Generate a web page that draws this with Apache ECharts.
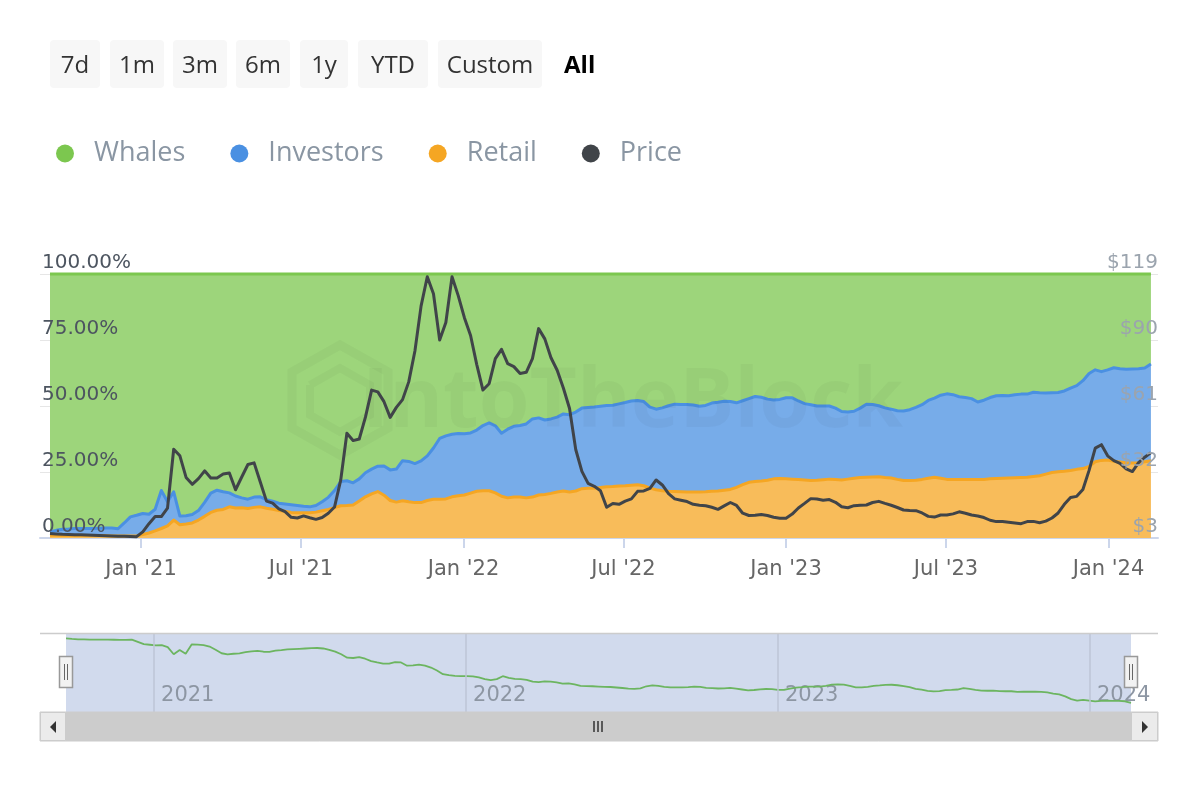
<!DOCTYPE html>
<html>
<head>
<meta charset="utf-8">
<script src="https://cdn.jsdelivr.net/npm/echarts@6/dist/echarts.min.js"></script>
<style>
html,body{margin:0;padding:0;background:#ffffff;}
#chart{width:1200px;height:800px;}
</style>
</head>
<body>
<div id="chart"></div>
<script>
// ---------------- DATA (weekly samples, starting 2020-09-20) ----------------
const firstWeek = '2020-09-20';

const retail = [
  1.0,1.0,0.9,0.9,0.9,0.9,0.9,0.9,0.9,0.9,0.8,0.8,0.8,0.8,0.8,
  1.3,1.9,2.7,3.6,4.6,6.8,5.0,5.3,5.7,6.8,8.2,9.7,10.5,10.8,11.8,
  11.4,11.5,11.2,11.6,11.8,11.3,10.9,10.4,10.1,9.7,9.6,9.6,9.6,9.8,10.3,
  10.8,11.5,12.2,12.3,12.5,14.0,15.6,16.7,17.6,16.2,14.2,13.6,14.1,13.7,13.4,
  13.4,14.2,14.7,14.7,14.8,15.6,16.0,16.3,17.0,17.7,17.9,17.9,17.1,15.8,15.2,
  15.5,15.5,15.2,15.5,16.3,16.5,16.9,17.4,17.8,17.4,17.8,18.7,18.8,18.8,19.1,
  19.4,19.5,19.7,19.8,20.0,20.2,19.8,18.9,18.3,17.9,17.7,17.6,17.5,17.4,17.4,
  17.4,17.5,17.7,17.8,18.1,18.4,19.2,20.2,21.1,21.4,21.6,21.9,22.4,22.5,22.4,
  22.3,22.2,22.0,21.8,21.9,22.1,22.3,22.2,22.0,22.3,22.6,22.9,23.0,23.1,23.2,
  22.9,22.7,22.2,21.8,21.8,21.9,22.2,22.6,23.0,22.6,22.2,22.2,22.2,22.2,22.2,
  22.2,22.2,22.4,22.5,22.6,22.7,22.8,22.9,23.0,23.3,23.6,24.2,24.8,25.1,25.3,
  25.6,26.0,26.3,27.1,28.9,29.4,29.5,29.1,28.8,28.5,28.4,28.5,28.9,29.3
];

const investors = [
  1.4,1.9,2.4,2.5,2.7,2.7,2.7,2.7,2.8,2.9,3.0,2.7,4.9,7.2,7.8,
  8.0,7.1,8.2,14.4,9.1,10.7,3.3,3.1,3.2,3.6,5.3,7.3,7.6,6.7,5.3,
  4.5,3.7,3.5,3.9,3.8,3.2,3.0,2.8,2.8,2.9,2.7,2.4,2.2,2.5,3.4,
  4.6,6.5,9.2,9.4,8.4,8.4,9.1,9.4,9.6,11.1,11.6,12.5,15.2,15.3,14.8,
  15.8,16.9,19.4,23.0,23.9,23.7,23.6,23.2,22.8,23.2,24.7,25.7,25.4,23.9,26.0,
  26.8,27.1,28.0,29.6,29.2,28.2,28.2,28.4,29.2,29.3,29.9,30.5,30.6,30.8,30.8,
  30.8,30.8,31.1,31.5,31.9,31.9,31.9,30.7,30.5,31.4,32.4,33.1,33.1,33.2,33.0,
  32.5,32.7,33.4,33.6,33.7,33.3,32.0,31.8,31.7,32.2,31.7,30.7,29.9,30.0,30.7,
  30.8,29.7,28.9,28.7,28.1,27.9,27.7,27.0,25.9,25.4,25.4,26.3,27.7,27.5,26.9,
  26.4,26.1,26.0,26.3,26.8,27.6,28.3,29.5,30.0,31.5,32.4,32.1,31.3,31.0,30.6,
  29.3,30.0,30.8,31.4,31.4,31.2,31.5,31.6,31.5,31.9,31.4,30.7,30.2,30.0,30.4,
  31.2,31.7,33.3,35.2,34.8,33.6,34.2,35.4,35.3,35.4,35.6,35.6,35.5,36.6
];

const whales = [
  97.6,97.1,96.7,96.6,96.4,96.4,96.4,96.4,96.3,96.2,96.2,96.5,94.3,92.0,91.4,
  90.7,91.0,89.1,82.0,86.3,82.5,91.7,91.6,91.1,89.6,86.5,83.0,81.9,82.5,82.9,
  84.1,84.8,85.3,84.5,84.4,85.5,86.1,86.8,87.1,87.4,87.7,88.0,88.2,87.7,86.3,
  84.6,82.0,78.6,78.3,79.1,77.6,75.3,73.9,72.8,72.7,74.2,73.9,70.7,71.0,71.8,
  70.8,68.9,65.9,62.3,61.3,60.7,60.4,60.5,60.2,59.1,57.4,56.4,57.5,60.3,58.8,
  57.7,57.4,56.8,54.9,54.5,55.3,54.9,54.2,53.0,53.3,52.3,50.8,50.6,50.4,50.1,
  49.8,49.7,49.2,48.7,48.1,47.9,48.3,50.4,51.2,50.7,49.9,49.3,49.4,49.4,49.6,
  50.1,49.8,48.9,48.6,48.2,48.3,48.8,48.0,47.2,46.4,46.7,47.4,47.7,47.5,46.9,
  46.9,48.1,49.1,49.5,50.0,50.0,50.0,50.8,52.1,52.3,52.0,50.8,49.3,49.4,49.9,
  50.7,51.2,51.8,51.9,51.4,50.5,49.5,47.9,47.0,45.9,45.4,45.7,46.5,46.8,47.2,
  48.5,47.8,46.8,46.1,46.0,46.1,45.7,45.5,45.5,44.8,45.0,45.1,45.0,44.9,44.3,
  43.2,42.3,40.4,37.7,36.3,37.0,36.3,35.5,35.9,36.1,36.0,35.9,35.6,34.1
];

const price = [
  5.0,4.8,4.6,4.5,4.4,4.4,4.3,4.2,4.1,4.0,3.9,3.8,3.8,3.7,3.6,
  5.7,9.3,12.4,12.4,16.1,42.0,39.1,29.6,26.6,29.1,32.5,29.4,29.4,31.1,31.6,
  24.2,29.8,35.3,36.0,27.6,19.2,18.3,15.8,14.6,12.1,11.8,12.7,11.9,11.2,12.0,
  13.9,16.6,28.4,49.0,45.8,46.5,56.1,68.0,67.2,62.9,56.0,60.4,63.8,71.6,85.2,
  105.0,117.8,110.3,90.0,97.7,117.8,109.5,99.8,92.0,79.2,68.0,70.8,81.8,85.9,79.6,
  78.3,75.3,75.8,81.8,95.0,90.5,82.2,76.7,68.9,59.9,41.9,32.3,27.0,25.7,23.8,
  16.5,18.2,17.8,19.2,20.2,23.5,23.7,24.8,28.5,26.3,22.5,20.2,19.6,19.0,17.8,
  17.4,17.2,16.5,15.6,17.1,18.6,17.3,13.9,12.9,13.0,13.3,12.9,12.1,11.7,11.7,
  13.5,16.2,18.2,20.3,20.1,19.6,19.9,18.7,16.7,16.3,17.2,17.4,17.5,18.6,19.1,
  18.2,17.4,16.4,15.3,15.1,15.0,14.0,12.5,12.2,13.1,13.1,13.6,14.5,13.9,13.1,
  12.7,12.0,10.8,10.2,10.2,9.9,9.6,9.3,10.2,10.3,9.7,10.4,11.8,14.0,17.8,
  20.8,21.3,24.3,32.7,42.5,44.0,39.1,37.0,35.8,33.4,32.2,36.1,38.5,40.5
];

const seriesNames = ['Whales', 'Investors', 'Retail', 'Price'];
const xTickDates = ['2021-01-01','2021-07-01','2022-01-01','2022-07-01','2023-01-01','2023-07-01','2024-01-01'];
const xTickLabels = ["Jan '21","Jul '21","Jan '22","Jul '22","Jan '23","Jul '23","Jan '24"];
const navYearDates = ['2021-01-01','2022-01-01','2023-01-01','2024-01-01'];
const navYearLabels = ['2021','2022','2023','2024'];
const priceTicks = [3, 32, 61, 90, 119];
const rangeButtons = ['7d','1m','3m','6m','1y','YTD','Custom'];
const activeRange = 'All';

// ---------------- BUILD ----------------
const DAY = 86400000;
const t0 = Date.parse(firstWeek);
const dates = retail.map((_, i) => t0 + i * 7 * DAY);
const tEnd = dates[dates.length - 1];
const pairs = arr => dates.map((d, i) => [d, arr[i]]);
const xTickTs = xTickDates.map(d => Date.parse(d));
const navYearTs = navYearDates.map(d => Date.parse(d));
const labelFor = (ts, list, labels) => {
  for (let i = 0; i < list.length; i++) if (Math.abs(list[i] - ts) < DAY) return labels[i];
  return '';
};
const xMin = t0 - 11.32 * DAY;
const xMax = tEnd + 8 * DAY;

const COLORS = { Whales: '#7cc74f', Investors: '#4a90e2', Retail: '#f5a623', Price: '#404449' };
// fills = series colour at 75% over white, drawn opaque
const FILLS = { Whales: '#9dd57b', Investors: '#77ace9', Retail: '#f8bc5a' };

// graphic: range buttons
const btnBoxes = [[50,50],[110,54],[173,54],[236,54],[300,48],[358,70],[438,104]];
const graphics = [];
rangeButtons.forEach((txt, i) => {
  const [bx, bw] = btnBoxes[i];
  graphics.push({ type: 'rect', silent: true, shape: { x: bx, y: 40, width: bw, height: 48, r: 4 }, style: { fill: '#f7f7f7' } });
  graphics.push({ type: 'text', silent: true, x: bx + bw / 2, y: 66,
    style: { text: txt, fill: '#333333', font: '24px "Open Sans"', align: 'center', verticalAlign: 'middle' } });
});
graphics.push({ type: 'text', silent: true, x: 564, y: 66,
  style: { text: activeRange, fill: '#000000', font: 'bold 24px "Open Sans"', align: 'left', verticalAlign: 'middle' } });

// watermark
graphics.push({ type: 'text', silent: true, z: 4.5, x: 362, y: 404,
  style: { text: 'IntoTheBlock', fill: 'rgba(0,0,0,0.03)', font: 'bold 82px "Open Sans"', align: 'left', verticalAlign: 'middle' } });
graphics.push({ type: 'polygon', silent: true, z: 4.5,
  shape: { points: [[340,345],[388,372],[388,428],[340,455],[292,428],[292,372]] },
  style: { fill: 'none', stroke: 'rgba(0,0,0,0.03)', lineWidth: 9 } });
graphics.push({ type: 'polyline', silent: true, z: 4.5,
  shape: { points: [[310,385],[340,368],[370,385],[370,415],[340,432],[310,415],[310,385]] },
  style: { fill: 'none', stroke: 'rgba(0,0,0,0.03)', lineWidth: 8 } });

// navigator frame & scrollbar
graphics.push({ type: 'line', silent: true, z: 10, shape: { x1: 40, y1: 633.5, x2: 1158, y2: 633.5 }, style: { stroke: '#cccccc', lineWidth: 1.5 } });
graphics.push({ type: 'rect', silent: true, z: 10, shape: { x: 40, y: 712, width: 1118, height: 29 }, style: { fill: '#cccccc', stroke: '#cccccc', lineWidth: 1 } });
graphics.push({ type: 'rect', silent: true, z: 11, shape: { x: 40.5, y: 712.5, width: 25, height: 28 }, style: { fill: '#ebebeb', stroke: '#cccccc', lineWidth: 1 } });
graphics.push({ type: 'rect', silent: true, z: 11, shape: { x: 1131.5, y: 712.5, width: 26, height: 28 }, style: { fill: '#ebebeb', stroke: '#cccccc', lineWidth: 1 } });
graphics.push({ type: 'polygon', silent: true, z: 12, shape: { points: [[56,721],[56,733],[50,727]] }, style: { fill: '#333333' } });
graphics.push({ type: 'polygon', silent: true, z: 12, shape: { points: [[1142,721],[1142,733],[1148,727]] }, style: { fill: '#333333' } });
[594, 598, 602].forEach(x => graphics.push({ type: 'line', silent: true, z: 12,
  shape: { x1: x, y1: 721, x2: x, y2: 732 }, style: { stroke: '#333333', lineWidth: 1.5 } }));
// handles
[66, 1131].forEach(cx => {
  graphics.push({ type: 'rect', silent: true, z: 12, shape: { x: cx - 6.5, y: 656.5, width: 13, height: 31 }, style: { fill: '#f2f2f2', stroke: '#999999', lineWidth: 1.5 } });
  graphics.push({ type: 'line', silent: true, z: 13, shape: { x1: cx - 1.5, y1: 664, x2: cx - 1.5, y2: 680 }, style: { stroke: '#666666', lineWidth: 1 } });
  graphics.push({ type: 'line', silent: true, z: 13, shape: { x1: cx + 1.5, y1: 664, x2: cx + 1.5, y2: 680 }, style: { stroke: '#666666', lineWidth: 1 } });
});

const areaSeries = (name, arr, z) => ({
  name, type: 'line', stack: 'holders', xAxisIndex: 2, yAxisIndex: 0, data: pairs(arr), z,
  symbol: 'none', showSymbol: false, clip: name !== 'Whales',
  lineStyle: { width: 3, color: COLORS[name], join: 'round' },
  itemStyle: { color: COLORS[name] },
  areaStyle: { color: FILLS[name], opacity: 1 },
  emphasis: { disabled: true }
});

const pctLabel = { formatter: v => v.toFixed(2) + '%', align: 'left', margin: -2,
  verticalAlign: 'bottom', lineHeight: 22, padding: [0, 0, 0, 0],
  color: '#4d5560', fontSize: 20, fontFamily: 'DejaVu Sans', showMinLabel: true, showMaxLabel: true };

const option = {
  animation: false,
  backgroundColor: '#ffffff',
  textStyle: { fontFamily: 'DejaVu Sans' },
  legend: {
    data: seriesNames, left: 56, top: 140, padding: 0,
    icon: 'circle', itemWidth: 18, itemHeight: 18, itemGap: 45,
    textStyle: { fontFamily: 'Open Sans', fontSize: 27, color: '#8a96a3', padding: [0, 0, 0, 15] }
  },
  grid: [
    { left: 40, right: 42, top: 274, height: 264, containLabel: false },
    { left: 66, right: 69, top: 634, height: 78, show: true, backgroundColor: 'rgba(102,133,194,0.3)', borderWidth: 0 }
  ],
  xAxis: [
    {
      type: 'value', gridIndex: 0, position: 'bottom', min: xMin, max: xMax,
      axisLine: { show: true, lineStyle: { color: '#ccd6eb', width: 2 } },
      axisTick: { show: true, customValues: xTickTs, length: 10, lineStyle: { color: '#ccd6eb', width: 2 } },
      axisLabel: { customValues: xTickTs, formatter: v => labelFor(v, xTickTs, xTickLabels),
        color: '#666666', fontSize: 21, fontFamily: 'DejaVu Sans', margin: 21 },
      splitLine: { show: false }, minorTick: { show: false }
    },
    {
      type: 'value', gridIndex: 1, min: t0, max: tEnd,
      axisLine: { show: false }, axisTick: { show: false }, splitLine: { show: false },
      axisLabel: { customValues: navYearTs, formatter: v => labelFor(v, navYearTs, navYearLabels),
        inside: true, align: 'left', verticalAlign: 'bottom', padding: [0, 0, 0, 7], margin: 6,
        color: '#8d96a3', fontSize: 21, fontFamily: 'DejaVu Sans' }
    },
    {
      type: 'time', gridIndex: 0, position: 'bottom', min: xMin, max: xMax, show: false,
      axisLine: { show: false }, axisTick: { show: false }, axisLabel: { show: false }, splitLine: { show: false }
    }
  ],
  yAxis: [
    {
      type: 'value', gridIndex: 0, min: 0, max: 100, interval: 25, z: 0,
      axisLine: { show: false }, axisTick: { show: false }, axisLabel: { show: false },
      splitLine: { show: true, lineStyle: { color: '#e6e6e6', width: 1 } }
    },
    {
      type: 'value', gridIndex: 0, position: 'right', z: 10,
      min: priceTicks[0], max: priceTicks[priceTicks.length - 1], interval: priceTicks[1] - priceTicks[0],
      axisLine: { show: false }, axisTick: { show: false }, splitLine: { show: false },
      axisLabel: { formatter: v => '$' + v, align: 'right', margin: 0,
        verticalAlign: 'bottom', lineHeight: 22, padding: [0, 0, 0, 0],
        color: '#9ba4ae', fontSize: 20, fontFamily: 'DejaVu Sans', showMinLabel: true, showMaxLabel: true }
    },
    { type: 'value', gridIndex: 1, min: 25, max: 102, show: false },
    {
      type: 'value', gridIndex: 0, position: 'left', min: 0, max: 100, interval: 25, z: 10,
      axisLine: { show: false }, axisTick: { show: false }, splitLine: { show: false },
      axisLabel: pctLabel
    }
  ],
  series: [
    areaSeries('Retail', retail, 4),
    areaSeries('Investors', investors, 3),
    areaSeries('Whales', whales, 2),
    {
      name: 'Price', type: 'line', xAxisIndex: 2, yAxisIndex: 1, data: pairs(price), z: 5,
      symbol: 'none', showSymbol: false,
      lineStyle: { width: 3, color: COLORS.Price, join: 'round' },
      itemStyle: { color: COLORS.Price }, emphasis: { disabled: true }
    },
    {
      name: 'Whales navigator', type: 'line', xAxisIndex: 1, yAxisIndex: 2, data: pairs(whales), z: 3,
      symbol: 'none', showSymbol: false, silent: true,
      lineStyle: { width: 1.8, color: '#6cb560' }, itemStyle: { color: '#6cb560' },
      markLine: { silent: true, symbol: 'none', label: { show: false },
        lineStyle: { color: '#bcc5d6', type: 'solid', width: 1.5 },
        data: navYearTs.map(t => ({ xAxis: t })) }
    }
  ],
  graphic: graphics
};

const chart = echarts.init(document.getElementById('chart'), null, { renderer: 'canvas' });
chart.setOption(option);
</script>
</body>
</html>
